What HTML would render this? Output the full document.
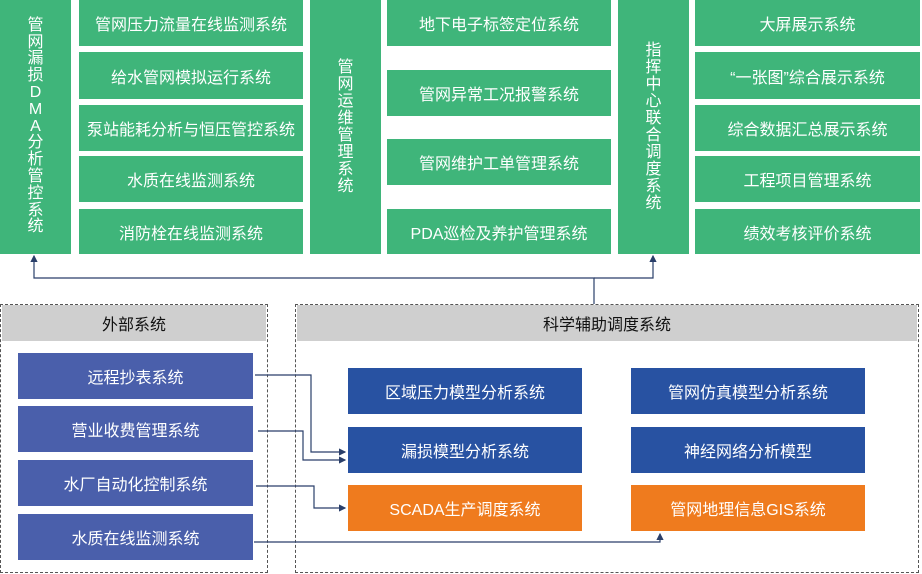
<!DOCTYPE html>
<html><head><meta charset="utf-8"><style>
body{margin:0;width:922px;height:574px;position:relative;background:#fff;font-family:"Liberation Sans","Noto Sans CJK SC",sans-serif;overflow:hidden}
.b{position:absolute;display:flex;align-items:center;justify-content:center;color:#fff;font-size:16px;white-space:nowrap}
.g{background:#3fb57a}
.v div{text-align:center}
.lb{background:#4a5fab}
.cb{background:#2852a2}
.or{background:#ef7b1e}
.dash{position:absolute;border:1.5px dashed #555;box-sizing:border-box}
.hd{position:absolute;background:#cfcfcf;color:#111;font-size:16px;display:flex;align-items:center;justify-content:center}
</style></head><body>
<div class="b g v" style="left:0;top:0;width:71px;height:254px;font-size:16px"><div style="line-height:16.8px">管<br>网<br>漏<br>损<br>D<br>M<br>A<br>分<br>析<br>管<br>控<br>系<br>统</div></div>
<div class="b g" style="left:79px;top:0;width:224px;height:46px">管网压力流量在线监测系统</div>
<div class="b g" style="left:79px;top:52px;width:224px;height:47px">给水管网模拟运行系统</div>
<div class="b g" style="left:79px;top:105px;width:224px;height:46px">泵站能耗分析与恒压管控系统</div>
<div class="b g" style="left:79px;top:156px;width:224px;height:46px">水质在线监测系统</div>
<div class="b g" style="left:79px;top:209px;width:224px;height:45px">消防栓在线监测系统</div>
<div class="b g v" style="left:310px;top:0;width:71px;height:254px;font-size:16px"><div style="line-height:17px">管<br>网<br>运<br>维<br>管<br>理<br>系<br>统</div></div>
<div class="b g" style="left:387px;top:0;width:224px;height:46px">地下电子标签定位系统</div>
<div class="b g" style="left:387px;top:70px;width:224px;height:46px">管网异常工况报警系统</div>
<div class="b g" style="left:387px;top:139px;width:224px;height:46px">管网维护工单管理系统</div>
<div class="b g" style="left:387px;top:209px;width:224px;height:45px">PDA巡检及养护管理系统</div>
<div class="b g v" style="left:618px;top:0;width:71px;height:254px;font-size:16px"><div style="line-height:17px">指<br>挥<br>中<br>心<br>联<br>合<br>调<br>度<br>系<br>统</div></div>
<div class="b g" style="left:695px;top:0;width:225px;height:46px">大屏展示系统</div>
<div class="b g" style="left:695px;top:52px;width:225px;height:47px">“一张图”综合展示系统</div>
<div class="b g" style="left:695px;top:105px;width:225px;height:46px">综合数据汇总展示系统</div>
<div class="b g" style="left:695px;top:156px;width:225px;height:46px">工程项目管理系统</div>
<div class="b g" style="left:695px;top:209px;width:225px;height:45px">绩效考核评价系统</div>

<div class="dash" style="left:0;top:304px;width:268px;height:269px"></div>
<div class="hd" style="left:2px;top:305px;width:264px;height:36px">外部系统</div>
<div class="dash" style="left:295px;top:304px;width:624px;height:269px"></div>
<div class="hd" style="left:297px;top:305px;width:620px;height:36px">科学辅助调度系统</div>

<div class="b lb" style="left:18px;top:353px;width:235px;height:46px">远程抄表系统</div>
<div class="b lb" style="left:18px;top:406px;width:235px;height:46px">营业收费管理系统</div>
<div class="b lb" style="left:18px;top:460px;width:235px;height:46px">水厂自动化控制系统</div>
<div class="b lb" style="left:18px;top:514px;width:235px;height:46px">水质在线监测系统</div>

<div class="b cb" style="left:348px;top:368px;width:234px;height:46px">区域压力模型分析系统</div>
<div class="b cb" style="left:348px;top:427px;width:234px;height:46px">漏损模型分析系统</div>
<div class="b or" style="left:348px;top:485px;width:234px;height:46px">SCADA生产调度系统</div>
<div class="b cb" style="left:631px;top:368px;width:234px;height:46px">管网仿真模型分析系统</div>
<div class="b cb" style="left:631px;top:427px;width:234px;height:46px">神经网络分析模型</div>
<div class="b or" style="left:631px;top:485px;width:234px;height:46px">管网地理信息GIS系统</div>

<svg style="position:absolute;left:0;top:0" width="922" height="574">
<defs><marker id="a" markerWidth="6" markerHeight="6" refX="5" refY="3" orient="auto"><path d="M0,0 L6,3 L0,6z" fill="#2a3f6a"/></marker></defs>
<g fill="none" stroke="#2a3f6a" stroke-width="1.2">
<polyline points="594,304 594,278 34,278 34,256" marker-end="url(#a)"/>
<polyline points="594,278 653,278 653,256" marker-end="url(#a)"/>
<polyline points="255,375 311,375 311,452 345,452" marker-end="url(#a)"/>
<polyline points="258,431 303,431 303,460 345,460" marker-end="url(#a)"/>
<polyline points="256,486 314,486 314,508 345,508" marker-end="url(#a)"/>
<polyline points="254,542 660,542 660,534" marker-end="url(#a)"/>
</g></svg>
</body></html>
